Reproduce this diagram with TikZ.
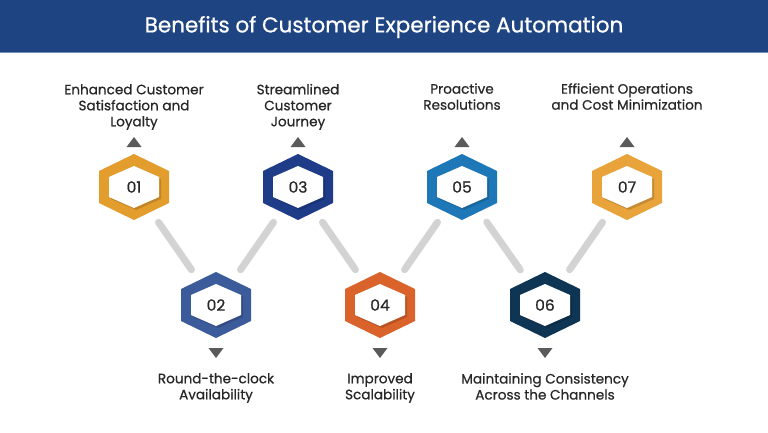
\documentclass[tikz,border=0pt]{standalone}
\usepackage{fontspec}
\setmainfont{Poppins}
\newfontfamily\medfont[BoldFont={Poppins}, BoldFeatures={FakeBold=0.7}]{Poppins}
\usepackage{xcolor}
\definecolor{titleblue}{RGB}{31,68,130}
\definecolor{titleedge}{RGB}{110,140,190}
\definecolor{hexorange}{RGB}{227,157,45}
\definecolor{hexgold}{RGB}{233,163,59}
\definecolor{hexblue}{RGB}{59,91,155}
\definecolor{hexdeep}{RGB}{31,60,136}
\definecolor{hexrust}{RGB}{217,99,42}
\definecolor{hexsky}{RGB}{30,120,184}
\definecolor{hexnavy}{RGB}{15,53,84}
\definecolor{linkgray}{RGB}{211,211,211}
\definecolor{tipgray}{RGB}{90,90,90}
\definecolor{textgray}{RGB}{40,40,40}
\usepackage{tikz}
\usetikzlibrary{positioning, calc}
\tikzset{
  titlebar/.style={
    fill=titleblue, draw=titleedge, line width=1pt
  },
  titletext/.style={
    text=white, font=\fontsize{21.5}{24}\medfont\bfseries
  },
  hexnum/.style={
    text=textgray, inner sep=0pt, font=\fontsize{15.5}{16}\medfont\bfseries
  },
  toplabel/.style={
    align=center, inner sep=0pt, text=textgray,
    font=\fontsize{13.6}{16}\medfont\bfseries
  },
  bottomlabel/.style={
    align=center, inner sep=0pt, text=textgray,
    font=\fontsize{13.6}{16}\medfont\bfseries
  },
  link/.style={
    draw=linkgray, line width=7pt, line cap=round,
    shorten >=43pt, shorten <=43pt
  },
  tip/.style={fill=tipgray},
}
% hexagon badge: name, position, colour, number
\newcommand{\hexbadge}[4]{%
  \coordinate (#1) at (#2);
  \begin{scope}[shift={(#1)}]
    \fill[#3] (0,33) -- (35,16) -- (35,-16) -- (0,-33) -- (-35,-16) -- (-35,16) -- cycle;
    \fill[#3!85!black] (2,19) -- (27,8) -- (27,-12) -- (2,-23) -- (-23,-12) -- (-23,8) -- cycle;
    \fill[white] (0,21) -- (25,10) -- (25,-10) -- (0,-21) -- (-25,-10) -- (-25,10) -- cycle;
  \end{scope}
  \node[hexnum] (#1num) at (#1) {#4};
}
\newcommand{\tipup}[1]{%
  \fill[tip] ($(#1)+(-7.5,40)$) -- ++(15,0) -- ++(-7.5,10) -- cycle;
}
\newcommand{\tipdown}[1]{%
  \fill[tip] ($(#1)+(-7.5,-43)$) -- ++(15,0) -- ++(-7.5,-10) -- cycle;
}

\begin{document}
\begin{tikzpicture}[x=1pt, y=1pt]
  \useasboundingbox (0,0) rectangle (768,432);

  % title
  \fill[white] (0,0) rectangle (768,432);
  \draw[titlebar] (-1,379) rectangle (769,433);
  \node[titletext] (title) at (384,405) {Benefits of Customer Experience Automation};

  % badges
  \hexbadge{h1}{134,245}{hexorange}{01}
  \hexbadge{h2}{216,127}{hexblue}{02}
  \hexbadge{h3}{298,245}{hexdeep}{03}
  \hexbadge{h4}{380,127}{hexrust}{04}
  \hexbadge{h5}{462,245}{hexsky}{05}
  \hexbadge{h6}{545,127}{hexnavy}{06}
  \hexbadge{h7}{627,245}{hexgold}{07}

  % zigzag links
  \draw[link] (h1) -- (h2);
  \draw[link] (h2) -- (h3);
  \draw[link] (h3) -- (h4);
  \draw[link] (h4) -- (h5);
  \draw[link] (h5) -- (h6);
  \draw[link] (h6) -- (h7);

  % pointers
  \foreach \h in {h1,h3,h5,h7} {\tipup{\h}}
  \foreach \h in {h2,h4,h6} {\tipdown{\h}}

  % labels
  \node[toplabel, above=57pt of h1] (t1) {Enhanced Customer\\Satisfaction and\\Loyalty};
  \node[toplabel, above=57pt of h3] (t3) {Streamlined\\Customer\\Journey};
  \node[toplabel, above=77pt of h5] (t5) {Proactive\\Resolutions};
  \node[toplabel, above=77pt of h7] (t7) {Efficient Operations\\and Cost Minimization};
  \node[bottomlabel, below=68pt of h2] (b2) {Round-the-clock\\Availability};
  \node[bottomlabel, below=68pt of h4] (b4) {Improved\\Scalability};
  \node[bottomlabel, below=68pt of h6] (b6) {Maintaining Consistency\\Across the Channels};
\end{tikzpicture}
\end{document}
